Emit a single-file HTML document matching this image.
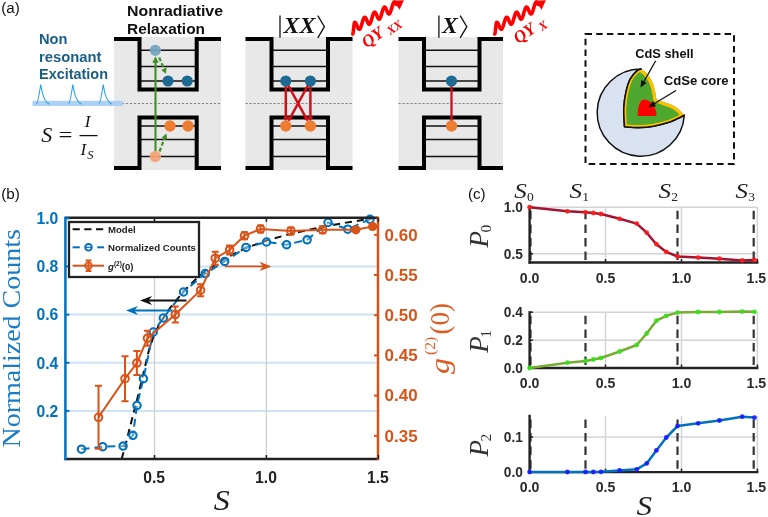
<!DOCTYPE html>
<html><head><meta charset="utf-8"><title>Figure</title>
<style>html,body{margin:0;padding:0;background:#fff;}body{width:768px;height:517px;overflow:hidden;font-family:"Liberation Sans",sans-serif;}</style>
</head><body>
<svg width="768" height="517" viewBox="0 0 768 517" style="display:block;filter:blur(0.4px)">
<rect width="768" height="517" fill="#ffffff"/>
<g id="panelA">
<text x="1.3" y="12.8" font-family="Liberation Sans, sans-serif" font-size="15.2" fill="#111">(a)</text>
<text x="39" y="43.9" font-family="Liberation Sans, sans-serif" font-weight="bold" font-size="14" fill="#1b5e85" textLength="28.5" lengthAdjust="spacingAndGlyphs">Non</text>
<text x="39" y="61.5" font-family="Liberation Sans, sans-serif" font-weight="bold" font-size="14" fill="#1b5e85" textLength="62.5" lengthAdjust="spacingAndGlyphs">resonant</text>
<text x="39" y="79.3" font-family="Liberation Sans, sans-serif" font-weight="bold" font-size="14" fill="#1b5e85" textLength="69" lengthAdjust="spacingAndGlyphs">Excitation</text>
<rect x="114" y="37" width="107" height="133" fill="#e8e8e8"/>
<line x1="139.5" y1="50.3" x2="196.7" y2="50.3" stroke="#111" stroke-width="1.4"/>
<line x1="139.5" y1="66.5" x2="196.7" y2="66.5" stroke="#111" stroke-width="1.4"/>
<line x1="139.5" y1="81" x2="196.7" y2="81" stroke="#111" stroke-width="1.4"/>
<line x1="139.5" y1="126" x2="196.7" y2="126" stroke="#111" stroke-width="1.4"/>
<line x1="139.5" y1="139.5" x2="196.7" y2="139.5" stroke="#111" stroke-width="1.4"/>
<line x1="139.5" y1="156.5" x2="196.7" y2="156.5" stroke="#111" stroke-width="1.4"/>
<line x1="114" y1="103.5" x2="221" y2="103.5" stroke="#555" stroke-width="0.7" stroke-dasharray="2.2,1.8"/>
<path d="M114 39 H139.5 V89.5 H196.7 V39 H221" fill="none" stroke="#000" stroke-width="4" stroke-linejoin="miter"/>
<path d="M114 168 H139.5 V117.5 H196.7 V168 H221" fill="none" stroke="#000" stroke-width="4" stroke-linejoin="miter"/>
<rect x="245.5" y="37" width="107.0" height="133" fill="#e8e8e8"/>
<line x1="271.5" y1="50.3" x2="328" y2="50.3" stroke="#111" stroke-width="1.4"/>
<line x1="271.5" y1="66.5" x2="328" y2="66.5" stroke="#111" stroke-width="1.4"/>
<line x1="271.5" y1="81" x2="328" y2="81" stroke="#111" stroke-width="1.4"/>
<line x1="271.5" y1="126" x2="328" y2="126" stroke="#111" stroke-width="1.4"/>
<line x1="271.5" y1="139.5" x2="328" y2="139.5" stroke="#111" stroke-width="1.4"/>
<line x1="271.5" y1="156.5" x2="328" y2="156.5" stroke="#111" stroke-width="1.4"/>
<line x1="245.5" y1="103.5" x2="352.5" y2="103.5" stroke="#555" stroke-width="0.7" stroke-dasharray="2.2,1.8"/>
<path d="M245.5 39 H271.5 V89.5 H328 V39 H352.5" fill="none" stroke="#000" stroke-width="4" stroke-linejoin="miter"/>
<path d="M245.5 168 H271.5 V117.5 H328 V168 H352.5" fill="none" stroke="#000" stroke-width="4" stroke-linejoin="miter"/>
<rect x="398.5" y="37" width="104.5" height="133" fill="#e8e8e8"/>
<line x1="424" y1="50.3" x2="479.5" y2="50.3" stroke="#111" stroke-width="1.4"/>
<line x1="424" y1="66.5" x2="479.5" y2="66.5" stroke="#111" stroke-width="1.4"/>
<line x1="424" y1="81" x2="479.5" y2="81" stroke="#111" stroke-width="1.4"/>
<line x1="424" y1="126" x2="479.5" y2="126" stroke="#111" stroke-width="1.4"/>
<line x1="424" y1="139.5" x2="479.5" y2="139.5" stroke="#111" stroke-width="1.4"/>
<line x1="424" y1="156.5" x2="479.5" y2="156.5" stroke="#111" stroke-width="1.4"/>
<line x1="398.5" y1="103.5" x2="503" y2="103.5" stroke="#555" stroke-width="0.7" stroke-dasharray="2.2,1.8"/>
<path d="M398.5 39 H424 V89.5 H479.5 V39 H503" fill="none" stroke="#000" stroke-width="4" stroke-linejoin="miter"/>
<path d="M398.5 168 H424 V117.5 H479.5 V168 H503" fill="none" stroke="#000" stroke-width="4" stroke-linejoin="miter"/>
<rect x="32.5" y="100.8" width="90.5" height="5.2" fill="#a9cff3" opacity="0.95"/>
<path d="M36.2 104 C38.2 103.5 39.5 92 40.7 84.5 C42.0 92 43.7 102 49.7 104.2" fill="none" stroke="#2fa3ea" stroke-width="1.1"/>
<path d="M68.3 104 C70.3 103.5 71.6 92 72.8 84.5 C74.1 92 75.8 102 81.8 104.2" fill="none" stroke="#2fa3ea" stroke-width="1.1"/>
<path d="M98.7 104 C100.7 103.5 102.0 92 103.2 84.5 C104.5 92 106.2 102 112.2 104.2" fill="none" stroke="#2fa3ea" stroke-width="1.1"/>
<text x="41.3" y="142" font-family="Liberation Serif, serif" font-style="italic" font-size="22" fill="#111">S</text>
<text x="58.5" y="141.5" font-family="Liberation Serif, serif" font-size="22" fill="#111" textLength="14" lengthAdjust="spacingAndGlyphs">=</text>
<text x="84.8" y="127" font-family="Liberation Serif, serif" font-style="italic" font-size="17" fill="#111">I</text>
<line x1="79.5" y1="135.6" x2="97.5" y2="135.6" stroke="#111" stroke-width="1.3"/>
<text x="80.6" y="155" font-family="Liberation Serif, serif" font-style="italic" font-size="17" fill="#111">I</text>
<text x="87.3" y="158.8" font-family="Liberation Serif, serif" font-style="italic" font-size="12.5" fill="#111">S</text>
<text x="127" y="15.6" font-family="Liberation Sans, sans-serif" font-weight="bold" font-size="14.2" fill="#111" textLength="96" lengthAdjust="spacingAndGlyphs">Nonradiative</text>
<text x="127" y="33.9" font-family="Liberation Sans, sans-serif" font-weight="bold" font-size="14.2" fill="#111" textLength="78" lengthAdjust="spacingAndGlyphs">Relaxation</text>
<line x1="155.5" y1="62" x2="155.5" y2="151" stroke="#3f8f24" stroke-width="2.1"/>
<path d="M155.50 56.30 L158.70 62.80 L152.30 62.80 Z" fill="#3f8f24"/>
<circle cx="155.3" cy="50.3" r="5.6" fill="#7ba9c2"/>
<line x1="150" y1="50.3" x2="161" y2="50.3" stroke="#4a7f9e" stroke-width="0.8" stroke-dasharray="1,0.8"/>
<circle cx="168" cy="81" r="5.6" fill="#1f6a93"/>
<circle cx="187.2" cy="81" r="5.6" fill="#1f6a93"/>
<circle cx="170" cy="126" r="5.7" fill="#ed7d31"/>
<circle cx="188" cy="126" r="5.7" fill="#ed7d31"/>
<circle cx="155.3" cy="156.5" r="5.7" fill="#f3a77e"/>
<line x1="150" y1="156.5" x2="161" y2="156.5" stroke="#d77a45" stroke-width="0.8" stroke-dasharray="1,0.8"/>
<line x1="159.2" y1="57.5" x2="164.31" y2="69.74" stroke="#3f8f24" stroke-width="2.2" stroke-dasharray="4,2.2"/><path d="M166.00 73.80 L161.11 69.88 L166.65 67.57 Z" fill="#3f8f24"/>
<line x1="159.5" y1="151.5" x2="164.83" y2="137.61" stroke="#3f8f24" stroke-width="2.2" stroke-dasharray="4,2.2"/><path d="M166.40 133.50 L167.23 139.71 L161.63 137.56 Z" fill="#3f8f24"/>
<line x1="285.8" y1="84" x2="285.80" y2="117.90" stroke="#cf1018" stroke-width="2.5"/><path d="M285.80 121.50 L283.00 117.00 L288.60 117.00 Z" fill="#cf1018"/>
<line x1="310.4" y1="84" x2="310.40" y2="117.90" stroke="#cf1018" stroke-width="2.5"/><path d="M310.40 121.50 L307.60 117.00 L313.20 117.00 Z" fill="#cf1018"/>
<line x1="287.5" y1="84" x2="306.27" y2="118.34" stroke="#cf1018" stroke-width="2.5"/><path d="M308.00 121.50 L303.38 118.89 L308.30 116.21 Z" fill="#cf1018"/>
<line x1="308.7" y1="84" x2="289.93" y2="118.34" stroke="#cf1018" stroke-width="2.5"/><path d="M288.20 121.50 L287.90 116.21 L292.82 118.89 Z" fill="#cf1018"/>
<circle cx="285.8" cy="81" r="5.6" fill="#1f6a93"/>
<circle cx="285.8" cy="126" r="5.7" fill="#ed7d31"/>
<circle cx="310.4" cy="81" r="5.6" fill="#1f6a93"/>
<circle cx="310.4" cy="126" r="5.7" fill="#ed7d31"/>
<line x1="451.5" y1="84" x2="451.5" y2="122" stroke="#cf1018" stroke-width="2.3"/>
<circle cx="451.5" cy="81" r="5.6" fill="#1f6a93"/>
<circle cx="451.5" cy="126" r="5.7" fill="#ed7d31"/>
<path d="M280 15.6 V37.8" stroke="#111" stroke-width="1.3" fill="none"/>
<text x="283.6" y="33.2" font-family="Liberation Serif, serif" font-style="italic" font-weight="bold" font-size="24" fill="#111" textLength="32" lengthAdjust="spacingAndGlyphs">XX</text>
<path d="M317.8 15.6 L324.4 26.7 L317.8 37.8" stroke="#111" stroke-width="1.3" fill="none" stroke-linejoin="miter"/>
<path d="M438.9 15.6 V37.8" stroke="#111" stroke-width="1.3" fill="none"/>
<text x="442" y="33.2" font-family="Liberation Serif, serif" font-style="italic" font-weight="bold" font-size="24" fill="#111" textLength="15.8" lengthAdjust="spacingAndGlyphs">X</text>
<path d="M460.2 15.6 L466.8 26.7 L460.2 37.8" stroke="#111" stroke-width="1.3" fill="none" stroke-linejoin="miter"/>
<path d="M352.70 34.00 L352.82 33.77 L352.94 33.37 L353.06 32.80 L353.18 32.08 L353.29 31.23 L353.41 30.28 L353.53 29.26 L353.65 28.21 L353.77 27.15 L353.89 26.14 L354.01 25.19 L354.12 24.34 L354.24 23.62 L354.36 23.05 L354.48 22.64 L354.60 22.42 L354.90 22.35 L355.20 22.44 L355.50 22.70 L355.80 23.10 L356.10 23.62 L356.40 24.24 L356.70 24.92 L357.00 25.65 L357.30 26.39 L357.60 27.11 L357.90 27.76 L358.20 28.34 L358.50 28.80 L358.80 29.13 L359.10 29.30 L359.40 29.32 L359.70 29.16 L360.00 28.84 L360.30 28.35 L360.60 27.71 L360.90 26.94 L361.20 26.06 L361.50 25.09 L361.80 24.07 L362.10 23.02 L362.40 21.98 L362.70 20.98 L363.00 20.06 L363.30 19.23 L363.60 18.52 L363.90 17.95 L364.20 17.55 L364.50 17.31 L364.80 17.24 L365.10 17.34 L365.40 17.59 L365.70 17.99 L366.00 18.51 L366.30 19.13 L366.60 19.82 L366.90 20.55 L367.20 21.28 L367.50 22.00 L367.80 22.66 L368.10 23.23 L368.40 23.69 L368.70 24.02 L369.00 24.20 L369.30 24.21 L369.60 24.06 L369.90 23.73 L370.20 23.24 L370.50 22.61 L370.80 21.84 L371.10 20.95 L371.40 19.98 L371.70 18.96 L372.00 17.91 L372.30 16.88 L372.60 15.88 L372.90 14.95 L373.20 14.12 L373.50 13.41 L373.80 12.85 L374.10 12.44 L374.40 12.20 L374.70 12.13 L375.00 12.23 L375.30 12.48 L375.60 12.88 L375.90 13.40 L376.20 14.02 L376.50 14.71 L376.80 15.44 L377.10 16.18 L377.40 16.89 L377.70 17.55 L378.00 18.12 L378.30 18.58 L378.60 18.91 L378.90 19.09 L379.20 19.10 L379.50 18.95 L379.80 18.62 L380.10 18.14 L380.40 17.50 L380.70 16.73 L381.00 15.84 L381.30 14.88 L381.60 13.85 L381.90 12.81 L382.20 11.77 L382.50 10.77 L382.80 9.84 L383.10 9.01 L383.40 8.30 L383.70 7.74 L384.00 7.33 L384.30 7.09 L384.60 7.02 L384.90 7.12 L385.20 7.37 L385.50 7.77 L385.80 8.29 L386.10 8.91 L386.40 9.60 L386.70 10.33 L387.00 11.07 L387.30 11.78 L387.60 12.44 L387.90 13.01 L388.20 13.47 L388.50 13.80 L388.80 13.98 L389.10 13.99 L389.40 13.84 L389.70 13.51 L390.00 13.03 L390.30 12.39 L390.60 11.62 L390.90 10.74 L391.20 9.77 L391.50 8.74 L391.80 7.70 L392.10 6.66 L392.40 5.66 L392.70 4.73 L393.00 3.90 L393.30 3.19 L393.60 2.63 L393.90 2.22 L394.20 1.98 L394.50 1.91 L394.80 2.01 L395.10 2.26 L395.40 2.66 L395.70 3.18 L396.00 3.80 L396.30 4.49" fill="none" stroke="#ff0000" stroke-width="3.6" stroke-linecap="round" stroke-linejoin="round"/><path d="M403.90 0.30 L393.40 0.80 L399.60 9.70 Z" fill="#ff0000"/>
<path d="M494.70 34.00 L494.82 33.77 L494.94 33.37 L495.06 32.80 L495.18 32.08 L495.29 31.23 L495.41 30.28 L495.53 29.26 L495.65 28.21 L495.77 27.15 L495.89 26.14 L496.01 25.19 L496.12 24.34 L496.24 23.62 L496.36 23.05 L496.48 22.64 L496.60 22.42 L496.90 22.35 L497.20 22.44 L497.50 22.70 L497.80 23.10 L498.10 23.62 L498.40 24.24 L498.70 24.92 L499.00 25.65 L499.30 26.39 L499.60 27.11 L499.90 27.76 L500.20 28.34 L500.50 28.80 L500.80 29.13 L501.10 29.30 L501.40 29.32 L501.70 29.16 L502.00 28.84 L502.30 28.35 L502.60 27.71 L502.90 26.94 L503.20 26.06 L503.50 25.09 L503.80 24.07 L504.10 23.02 L504.40 21.98 L504.70 20.98 L505.00 20.06 L505.30 19.23 L505.60 18.52 L505.90 17.95 L506.20 17.55 L506.50 17.31 L506.80 17.24 L507.10 17.34 L507.40 17.59 L507.70 17.99 L508.00 18.51 L508.30 19.13 L508.60 19.82 L508.90 20.55 L509.20 21.28 L509.50 22.00 L509.80 22.66 L510.10 23.23 L510.40 23.69 L510.70 24.02 L511.00 24.20 L511.30 24.21 L511.60 24.06 L511.90 23.73 L512.20 23.24 L512.50 22.61 L512.80 21.84 L513.10 20.95 L513.40 19.98 L513.70 18.96 L514.00 17.91 L514.30 16.88 L514.60 15.88 L514.90 14.95 L515.20 14.12 L515.50 13.41 L515.80 12.85 L516.10 12.44 L516.40 12.20 L516.70 12.13 L517.00 12.23 L517.30 12.48 L517.60 12.88 L517.90 13.40 L518.20 14.02 L518.50 14.71 L518.80 15.44 L519.10 16.18 L519.40 16.89 L519.70 17.55 L520.00 18.12 L520.30 18.58 L520.60 18.91 L520.90 19.09 L521.20 19.10 L521.50 18.95 L521.80 18.62 L522.10 18.14 L522.40 17.50 L522.70 16.73 L523.00 15.84 L523.30 14.88 L523.60 13.85 L523.90 12.81 L524.20 11.77 L524.50 10.77 L524.80 9.84 L525.10 9.01 L525.40 8.30 L525.70 7.74 L526.00 7.33 L526.30 7.09 L526.60 7.02 L526.90 7.12 L527.20 7.37 L527.50 7.77 L527.80 8.29 L528.10 8.91 L528.40 9.60 L528.70 10.33 L529.00 11.07 L529.30 11.78 L529.60 12.44 L529.90 13.01 L530.20 13.47 L530.50 13.80 L530.80 13.98 L531.10 13.99 L531.40 13.84 L531.70 13.51 L532.00 13.03 L532.30 12.39 L532.60 11.62 L532.90 10.74 L533.20 9.77 L533.50 8.74 L533.80 7.70 L534.10 6.66 L534.40 5.66 L534.70 4.73 L535.00 3.90 L535.30 3.19 L535.60 2.63 L535.90 2.22 L536.20 1.98 L536.50 1.91 L536.80 2.01 L537.10 2.26 L537.40 2.66 L537.70 3.18 L538.00 3.80 L538.30 4.49" fill="none" stroke="#ff0000" stroke-width="3.6" stroke-linecap="round" stroke-linejoin="round"/><path d="M545.90 0.30 L535.40 0.80 L541.60 9.70 Z" fill="#ff0000"/>
<g transform="translate(366.4,48.4) rotate(-35)"><text x="0" y="0" font-family="Liberation Serif, serif" font-style="italic" font-weight="bold" font-size="17" fill="#ff0000">QY</text><text x="27" y="3" font-family="Liberation Serif, serif" font-style="italic" font-weight="bold" font-size="12" fill="#ff0000">XX</text></g>
<g transform="translate(518.2,44.3) rotate(-35)"><text x="0" y="0" font-family="Liberation Serif, serif" font-style="italic" font-weight="bold" font-size="17" fill="#ff0000">QY</text><text x="27" y="3" font-family="Liberation Serif, serif" font-style="italic" font-weight="bold" font-size="12" fill="#ff0000">X</text></g>
<rect x="585.5" y="34" width="148.5" height="130" fill="none" stroke="#111" stroke-width="2" stroke-dasharray="6.5,4.2"/>
<path d="M641.2 69 A43.6 43.6 0 1 0 684.3 115.2 C683.28 115.72 680.90 117.07 678.2 118.3 C675.50 119.53 672.22 121.28 668.1 122.6 C663.98 123.92 658.35 125.37 653.5 126.2 C648.65 127.03 643.83 127.50 639 127.6 C634.17 127.70 626.92 126.93 624.5 126.8 C624.38 123.65 623.55 113.72 623.8 107.9 C624.05 102.08 624.92 96.73 626 91.9 C627.08 87.07 628.48 82.40 630.3 78.9 C632.12 75.40 635.08 72.55 636.9 70.9 C638.72 69.25 640.48 69.32 641.2 69 Z" fill="#d9e2f1" stroke="#111" stroke-width="1.5" stroke-linejoin="round"/>
<clipPath id="hc"><path d="M624.5 126.8 C624.38 123.65 623.55 113.72 623.8 107.9 C624.05 102.08 624.92 96.73 626 91.9 C627.08 87.07 628.48 82.40 630.3 78.9 C632.12 75.40 635.08 72.55 636.9 70.9 C638.72 69.25 640.48 69.32 641.2 69 C642.05 69.68 644.60 71.22 646.3 73.1 C648.00 74.98 650.02 77.65 651.4 80.3 C652.78 82.95 653.77 85.85 654.6 89 C655.43 92.15 656.10 97.50 656.4 99.2 C657.38 99.60 659.87 100.70 662.3 101.6 C664.73 102.50 668.35 103.37 671 104.6 C673.65 105.83 676.15 107.43 678.2 109 C680.25 110.57 682.28 112.97 683.3 114 C684.32 115.03 684.13 115.00 684.3 115.2 C683.28 115.72 680.90 117.07 678.2 118.3 C675.50 119.53 672.22 121.28 668.1 122.6 C663.98 123.92 658.35 125.37 653.5 126.2 C648.65 127.03 643.83 127.50 639 127.6 C634.17 127.70 626.92 126.93 624.5 126.8 Z"/></clipPath>
<path d="M624.5 126.8 C624.38 123.65 623.55 113.72 623.8 107.9 C624.05 102.08 624.92 96.73 626 91.9 C627.08 87.07 628.48 82.40 630.3 78.9 C632.12 75.40 635.08 72.55 636.9 70.9 C638.72 69.25 640.48 69.32 641.2 69 C642.05 69.68 644.60 71.22 646.3 73.1 C648.00 74.98 650.02 77.65 651.4 80.3 C652.78 82.95 653.77 85.85 654.6 89 C655.43 92.15 656.10 97.50 656.4 99.2 C657.38 99.60 659.87 100.70 662.3 101.6 C664.73 102.50 668.35 103.37 671 104.6 C673.65 105.83 676.15 107.43 678.2 109 C680.25 110.57 682.28 112.97 683.3 114 C684.32 115.03 684.13 115.00 684.3 115.2 C683.28 115.72 680.90 117.07 678.2 118.3 C675.50 119.53 672.22 121.28 668.1 122.6 C663.98 123.92 658.35 125.37 653.5 126.2 C648.65 127.03 643.83 127.50 639 127.6 C634.17 127.70 626.92 126.93 624.5 126.8 Z" fill="#4ea72e"/>
<g clip-path="url(#hc)"><path d="M641.2 69 C642.05 69.68 644.60 71.22 646.3 73.1 C648.00 74.98 650.02 77.65 651.4 80.3 C652.78 82.95 653.77 85.85 654.6 89 C655.43 92.15 656.10 97.50 656.4 99.2 C657.38 99.60 659.87 100.70 662.3 101.6 C664.73 102.50 668.35 103.37 671 104.6 C673.65 105.83 676.15 107.43 678.2 109 C680.25 110.57 682.28 112.97 683.3 114 C684.32 115.03 684.13 115.00 684.3 115.2 " fill="none" stroke="#ffc000" stroke-width="6.4" stroke-linejoin="round"/><path d="M684.3 115.2 C683.28 115.72 680.90 117.07 678.2 118.3 C675.50 119.53 672.22 121.28 668.1 122.6 C663.98 123.92 658.35 125.37 653.5 126.2 C648.65 127.03 643.83 127.50 639 127.6 C634.17 127.70 626.92 126.93 624.5 126.8 C624.38 123.65 623.55 113.72 623.8 107.9 C624.05 102.08 624.92 96.73 626 91.9 C627.08 87.07 628.48 82.40 630.3 78.9 C632.12 75.40 635.08 72.55 636.9 70.9 C638.72 69.25 640.48 69.32 641.2 69 " fill="none" stroke="#ffc000" stroke-width="5" stroke-linejoin="round"/></g>
<path d="M684.3 115.2 C683.28 115.72 680.90 117.07 678.2 118.3 C675.50 119.53 672.22 121.28 668.1 122.6 C663.98 123.92 658.35 125.37 653.5 126.2 C648.65 127.03 643.83 127.50 639 127.6 C634.17 127.70 626.92 126.93 624.5 126.8 C624.38 123.65 623.55 113.72 623.8 107.9 C624.05 102.08 624.92 96.73 626 91.9 C627.08 87.07 628.48 82.40 630.3 78.9 C632.12 75.40 635.08 72.55 636.9 70.9 C638.72 69.25 640.48 69.32 641.2 69 " fill="none" stroke="#111" stroke-width="1.6" stroke-linejoin="round" stroke-linecap="round"/>
<path d="M637.6 115.9 C637.6 110 638.5 104.5 641 101.2 C642 99.8 643.3 99.3 645 99.6 C651.5 100.8 656.5 107 656.5 115.9 Z" fill="#ff0000"/>
<line x1="655.7" y1="60.7" x2="643.25" y2="82.72" stroke="#111" stroke-width="1.3"/><path d="M640.50 87.60 L641.33 80.03 L646.56 82.98 Z" fill="#111"/>
<line x1="676" y1="90.5" x2="653.29" y2="104.29" stroke="#111" stroke-width="1.3"/><path d="M648.50 107.20 L652.93 101.00 L656.04 106.13 Z" fill="#111"/>
<text x="635.2" y="58" font-family="Liberation Sans, sans-serif" font-weight="bold" font-size="13" fill="#111" textLength="58.5" lengthAdjust="spacingAndGlyphs">CdS shell</text>
<text x="663.7" y="85" font-family="Liberation Sans, sans-serif" font-weight="bold" font-size="13" fill="#111" textLength="65" lengthAdjust="spacingAndGlyphs">CdSe core</text>
</g>
<g id="panelB">
<text x="1.3" y="198.5" font-family="Liberation Sans, sans-serif" font-size="15.2" fill="#111">(b)</text>
<line x1="65.4" y1="410.9" x2="378" y2="410.9" stroke="#cde2f4" stroke-width="2"/>
<line x1="65.4" y1="362.8" x2="378" y2="362.8" stroke="#cde2f4" stroke-width="2"/>
<line x1="65.4" y1="314.6" x2="378" y2="314.6" stroke="#cde2f4" stroke-width="2"/>
<line x1="65.4" y1="266.5" x2="378" y2="266.5" stroke="#cde2f4" stroke-width="2"/>
<line x1="154.5" y1="217.8" x2="154.5" y2="459" stroke="#cfcfcf" stroke-width="1.3"/>
<line x1="266.4" y1="217.8" x2="266.4" y2="459" stroke="#cfcfcf" stroke-width="1.3"/>
<path d="M121.7 459 L126 443 L131 423 L137 400 L143 375 L149 350 L154 335 L160 323 L170 308 L183 292 L195 280 L206 271 L225 258.5 L246 248 L266.5 240.5 L290 234 L310 229.5 L330 225.5 L350 222 L378 217.5" fill="none" stroke="#111" stroke-width="2" stroke-dasharray="7,5"/>
<path d="M81.5 449.2 L102.7 446.7 L123.1 446.1 L132.9 435.3 L137 405.4 L143.4 378.7 L153.3 332 L163.3 318 L183.5 292 L205.3 273.6 L224.7 261.4 L246 247.4 L266.5 242 L286.6 244.7 L307.1 239.8 L328 222.5 L347.7 229.2 L370 219.3" fill="none" stroke="#0072bd" stroke-width="2" stroke-dasharray="8,5"/>
<circle cx="81.5" cy="449.2" r="3.7" fill="#fff" fill-opacity="0.35" stroke="#0072bd" stroke-width="2.1"/>
<circle cx="102.7" cy="446.7" r="3.7" fill="#fff" fill-opacity="0.35" stroke="#0072bd" stroke-width="2.1"/>
<circle cx="123.1" cy="446.1" r="3.7" fill="#fff" fill-opacity="0.35" stroke="#0072bd" stroke-width="2.1"/>
<circle cx="132.9" cy="435.3" r="3.7" fill="#fff" fill-opacity="0.35" stroke="#0072bd" stroke-width="2.1"/>
<circle cx="137" cy="405.4" r="3.7" fill="#fff" fill-opacity="0.35" stroke="#0072bd" stroke-width="2.1"/>
<circle cx="143.4" cy="378.7" r="3.7" fill="#fff" fill-opacity="0.35" stroke="#0072bd" stroke-width="2.1"/>
<circle cx="153.3" cy="332" r="3.7" fill="#fff" fill-opacity="0.35" stroke="#0072bd" stroke-width="2.1"/>
<circle cx="163.3" cy="318" r="3.7" fill="#fff" fill-opacity="0.35" stroke="#0072bd" stroke-width="2.1"/>
<circle cx="183.5" cy="292" r="3.7" fill="#fff" fill-opacity="0.35" stroke="#0072bd" stroke-width="2.1"/>
<circle cx="205.3" cy="273.6" r="3.7" fill="#fff" fill-opacity="0.35" stroke="#0072bd" stroke-width="2.1"/>
<circle cx="224.7" cy="261.4" r="3.7" fill="#fff" fill-opacity="0.35" stroke="#0072bd" stroke-width="2.1"/>
<circle cx="246" cy="247.4" r="3.7" fill="#fff" fill-opacity="0.35" stroke="#0072bd" stroke-width="2.1"/>
<circle cx="266.5" cy="242" r="3.7" fill="#fff" fill-opacity="0.35" stroke="#0072bd" stroke-width="2.1"/>
<circle cx="286.6" cy="244.7" r="3.7" fill="#fff" fill-opacity="0.35" stroke="#0072bd" stroke-width="2.1"/>
<circle cx="307.1" cy="239.8" r="3.7" fill="#fff" fill-opacity="0.35" stroke="#0072bd" stroke-width="2.1"/>
<circle cx="328" cy="222.5" r="3.7" fill="#fff" fill-opacity="0.35" stroke="#0072bd" stroke-width="2.1"/>
<circle cx="347.7" cy="229.2" r="3.7" fill="#fff" fill-opacity="0.35" stroke="#0072bd" stroke-width="2.1"/>
<circle cx="370" cy="219.3" r="3.7" fill="#fff" fill-opacity="0.35" stroke="#0072bd" stroke-width="2.1"/>
<path d="M98.5 417.3 L125 378.7 L136.9 363 L147.5 338.2 L175.3 314.5 L200.6 290.2 L215.3 258.2 L229.6 250 L244.5 235.7 L260.5 229 L290.9 231 L322.6 229.8 L355.9 229.8 L372.6 226.5" fill="none" stroke="#d95319" stroke-width="2"/>
<path d="M98.5 385.8 V448.8 M95.0 385.8 H102.0 M95.0 448.8 H102.0" stroke="#d95319" stroke-width="2" fill="none"/>
<circle cx="98.5" cy="417.3" r="3.8" fill="none" stroke="#d95319" stroke-width="2"/>
<path d="M125 356.2 V401.2 M121.5 356.2 H128.5 M121.5 401.2 H128.5" stroke="#d95319" stroke-width="2" fill="none"/>
<circle cx="125" cy="378.7" r="3.8" fill="none" stroke="#d95319" stroke-width="2"/>
<path d="M136.9 351 V375 M133.4 351 H140.4 M133.4 375 H140.4" stroke="#d95319" stroke-width="2" fill="none"/>
<circle cx="136.9" cy="363" r="3.8" fill="none" stroke="#d95319" stroke-width="2"/>
<path d="M147.5 330.7 V345.7 M144.0 330.7 H151.0 M144.0 345.7 H151.0" stroke="#d95319" stroke-width="2" fill="none"/>
<circle cx="147.5" cy="338.2" r="3.8" fill="none" stroke="#d95319" stroke-width="2"/>
<path d="M175.3 306.5 V322.5 M171.8 306.5 H178.8 M171.8 322.5 H178.8" stroke="#d95319" stroke-width="2" fill="none"/>
<circle cx="175.3" cy="314.5" r="3.8" fill="none" stroke="#d95319" stroke-width="2"/>
<path d="M200.6 284.2 V296.2 M197.1 284.2 H204.1 M197.1 296.2 H204.1" stroke="#d95319" stroke-width="2" fill="none"/>
<circle cx="200.6" cy="290.2" r="3.8" fill="none" stroke="#d95319" stroke-width="2"/>
<path d="M215.3 251.7 V264.7 M211.8 251.7 H218.8 M211.8 264.7 H218.8" stroke="#d95319" stroke-width="2" fill="none"/>
<circle cx="215.3" cy="258.2" r="3.8" fill="none" stroke="#d95319" stroke-width="2"/>
<path d="M229.6 245.5 V254.5 M226.1 245.5 H233.1 M226.1 254.5 H233.1" stroke="#d95319" stroke-width="2" fill="none"/>
<circle cx="229.6" cy="250" r="3.8" fill="none" stroke="#d95319" stroke-width="2"/>
<path d="M244.5 232.2 V239.2 M241.0 232.2 H248.0 M241.0 239.2 H248.0" stroke="#d95319" stroke-width="2" fill="none"/>
<circle cx="244.5" cy="235.7" r="3.8" fill="none" stroke="#d95319" stroke-width="2"/>
<path d="M260.5 225.5 V232.5 M257.0 225.5 H264.0 M257.0 232.5 H264.0" stroke="#d95319" stroke-width="2" fill="none"/>
<circle cx="260.5" cy="229" r="3.8" fill="none" stroke="#d95319" stroke-width="2"/>
<path d="M290.9 227.5 V234.5 M287.4 227.5 H294.4 M287.4 234.5 H294.4" stroke="#d95319" stroke-width="2" fill="none"/>
<circle cx="290.9" cy="231" r="3.8" fill="none" stroke="#d95319" stroke-width="2"/>
<path d="M322.6 226.3 V233.3 M319.1 226.3 H326.1 M319.1 233.3 H326.1" stroke="#d95319" stroke-width="2" fill="none"/>
<circle cx="322.6" cy="229.8" r="3.8" fill="none" stroke="#d95319" stroke-width="2"/>
<circle cx="355.9" cy="229.8" r="4.6" fill="#d95319"/>
<circle cx="372.6" cy="226.5" r="4.6" fill="#d95319"/>
<line x1="186.5" y1="300.5" x2="144" y2="300.5" stroke="#111" stroke-width="1.9"/><path d="M140 300.5 L152 295.9 L148.5 300.5 L152 305.1 Z" fill="#111"/>
<line x1="172.5" y1="310.5" x2="130" y2="310.5" stroke="#0072bd" stroke-width="1.9"/><path d="M126 310.5 L138 305.9 L134.5 310.5 L138 315.1 Z" fill="#0072bd"/>
<line x1="225" y1="266.4" x2="267.5" y2="266.4" stroke="#d95319" stroke-width="1.9"/><path d="M271.5 266.4 L259.5 261.79999999999995 L263.0 266.4 L259.5 271.0 Z" fill="#d95319"/>
<line x1="65.4" y1="217.8" x2="378" y2="217.8" stroke="#222" stroke-width="2.4"/>
<line x1="64.2" y1="459" x2="378" y2="459" stroke="#222" stroke-width="2.4"/>
<line x1="65.4" y1="216.60000000000002" x2="65.4" y2="460.2" stroke="#0072bd" stroke-width="2.5"/>
<line x1="378" y1="216.60000000000002" x2="378" y2="460.2" stroke="#d95319" stroke-width="2.5"/>
<line x1="65.4" y1="410.9" x2="69.4" y2="410.9" stroke="#0072bd" stroke-width="2"/>
<text x="58.3" y="416.6" font-family="Liberation Sans, sans-serif" font-weight="bold" font-size="15.7" fill="#0072bd" text-anchor="end">0.2</text>
<line x1="65.4" y1="362.8" x2="69.4" y2="362.8" stroke="#0072bd" stroke-width="2"/>
<text x="58.3" y="368.5" font-family="Liberation Sans, sans-serif" font-weight="bold" font-size="15.7" fill="#0072bd" text-anchor="end">0.4</text>
<line x1="65.4" y1="314.6" x2="69.4" y2="314.6" stroke="#0072bd" stroke-width="2"/>
<text x="58.3" y="320.3" font-family="Liberation Sans, sans-serif" font-weight="bold" font-size="15.7" fill="#0072bd" text-anchor="end">0.6</text>
<line x1="65.4" y1="266.5" x2="69.4" y2="266.5" stroke="#0072bd" stroke-width="2"/>
<text x="58.3" y="272.2" font-family="Liberation Sans, sans-serif" font-weight="bold" font-size="15.7" fill="#0072bd" text-anchor="end">0.8</text>
<line x1="65.4" y1="218.4" x2="69.4" y2="218.4" stroke="#0072bd" stroke-width="2"/>
<text x="58.3" y="224.1" font-family="Liberation Sans, sans-serif" font-weight="bold" font-size="15.7" fill="#0072bd" text-anchor="end">1.0</text>
<line x1="374" y1="435.8" x2="378" y2="435.8" stroke="#d95319" stroke-width="2"/>
<text x="384.6" y="441.5" font-family="Liberation Sans, sans-serif" font-weight="bold" font-size="15.7" fill="#d95319" textLength="33" lengthAdjust="spacingAndGlyphs">0.35</text>
<line x1="374" y1="395.6" x2="378" y2="395.6" stroke="#d95319" stroke-width="2"/>
<text x="384.6" y="401.3" font-family="Liberation Sans, sans-serif" font-weight="bold" font-size="15.7" fill="#d95319" textLength="33" lengthAdjust="spacingAndGlyphs">0.40</text>
<line x1="374" y1="355.4" x2="378" y2="355.4" stroke="#d95319" stroke-width="2"/>
<text x="384.6" y="361.1" font-family="Liberation Sans, sans-serif" font-weight="bold" font-size="15.7" fill="#d95319" textLength="33" lengthAdjust="spacingAndGlyphs">0.45</text>
<line x1="374" y1="315.2" x2="378" y2="315.2" stroke="#d95319" stroke-width="2"/>
<text x="384.6" y="320.9" font-family="Liberation Sans, sans-serif" font-weight="bold" font-size="15.7" fill="#d95319" textLength="33" lengthAdjust="spacingAndGlyphs">0.50</text>
<line x1="374" y1="275.0" x2="378" y2="275.0" stroke="#d95319" stroke-width="2"/>
<text x="384.6" y="280.7" font-family="Liberation Sans, sans-serif" font-weight="bold" font-size="15.7" fill="#d95319" textLength="33" lengthAdjust="spacingAndGlyphs">0.55</text>
<line x1="374" y1="234.8" x2="378" y2="234.8" stroke="#d95319" stroke-width="2"/>
<text x="384.6" y="240.5" font-family="Liberation Sans, sans-serif" font-weight="bold" font-size="15.7" fill="#d95319" textLength="33" lengthAdjust="spacingAndGlyphs">0.60</text>
<line x1="154.5" y1="459" x2="154.5" y2="455" stroke="#222" stroke-width="1.6"/>
<line x1="154.5" y1="217.8" x2="154.5" y2="221.8" stroke="#222" stroke-width="1.6"/>
<text x="154.1" y="483" font-family="Liberation Sans, sans-serif" font-weight="bold" font-size="15.7" fill="#222" text-anchor="middle">0.5</text>
<line x1="266.4" y1="459" x2="266.4" y2="455" stroke="#222" stroke-width="1.6"/>
<line x1="266.4" y1="217.8" x2="266.4" y2="221.8" stroke="#222" stroke-width="1.6"/>
<text x="266.0" y="483" font-family="Liberation Sans, sans-serif" font-weight="bold" font-size="15.7" fill="#222" text-anchor="middle">1.0</text>
<line x1="378.3" y1="459" x2="378.3" y2="455" stroke="#222" stroke-width="1.6"/>
<line x1="378.3" y1="217.8" x2="378.3" y2="221.8" stroke="#222" stroke-width="1.6"/>
<text x="377.9" y="483" font-family="Liberation Sans, sans-serif" font-weight="bold" font-size="15.7" fill="#222" text-anchor="middle">1.5</text>
<rect x="69" y="222" width="130" height="55" fill="#fff" stroke="#222" stroke-width="2.3"/>
<line x1="72.6" y1="229.3" x2="104" y2="229.3" stroke="#111" stroke-width="2" stroke-dasharray="7.2,4.5"/>
<text x="108" y="232.8" font-family="Liberation Sans, sans-serif" font-weight="bold" font-size="9.6" fill="#222">Model</text>
<line x1="72.6" y1="247.3" x2="79.8" y2="247.3" stroke="#0072bd" stroke-width="2"/>
<line x1="97.2" y1="247.3" x2="104" y2="247.3" stroke="#0072bd" stroke-width="2"/>
<circle cx="88.5" cy="247.3" r="3.3" fill="#fff" stroke="#0072bd" stroke-width="1.9"/><line x1="86" y1="247.3" x2="91" y2="247.3" stroke="#0072bd" stroke-width="1.2"/>
<text x="108" y="250.8" font-family="Liberation Sans, sans-serif" font-weight="bold" font-size="9.6" fill="#222" textLength="88" lengthAdjust="spacingAndGlyphs">Normalized Counts</text>
<line x1="72.6" y1="265.7" x2="104" y2="265.7" stroke="#d95319" stroke-width="2"/>
<path d="M88.5 260.5 V271 M85.6 260.5 H91.4 M85.6 271 H91.4" stroke="#d95319" stroke-width="1.8" fill="none"/>
<circle cx="88.5" cy="265.7" r="3.3" fill="none" stroke="#d95319" stroke-width="1.8"/>
<text x="108" y="269.5" font-family="Liberation Sans, sans-serif" font-weight="bold" font-size="9.6" fill="#222"><tspan font-style="italic">g</tspan><tspan dy="-3.5" font-size="6.5">(2)</tspan><tspan dy="3.5">(0)</tspan></text>
<text transform="translate(19.6,338.3) rotate(-90)" font-family="Liberation Serif, serif" font-size="24.5" fill="#1a7cc4" text-anchor="middle" textLength="218.6" lengthAdjust="spacingAndGlyphs">Normalized Counts</text>
<text x="213.8" y="510" font-family="Liberation Serif, serif" font-style="italic" font-size="29" fill="#222" textLength="16" lengthAdjust="spacingAndGlyphs">S</text>
<g transform="translate(449,374.5) rotate(-90)" fill="#dd5b22"><text x="0.5" y="0" font-family="Liberation Serif, serif" font-style="italic" font-size="27" textLength="16" lengthAdjust="spacingAndGlyphs">g</text><text x="19.5" y="-14" font-family="Liberation Serif, serif" font-size="15.5">(2)</text><text x="40" y="0" font-family="Liberation Serif, serif" font-size="27">(0)</text></g>
</g>
<g id="panelC">
<text x="467.9" y="199.3" font-family="Liberation Sans, sans-serif" font-size="15.2" fill="#111">(c)</text>
<text x="514.3" y="197.6" font-family="Liberation Serif, serif" font-style="italic" font-size="21.5" fill="#222" textLength="12.5" lengthAdjust="spacingAndGlyphs">S</text>
<text x="527.0999999999999" y="201" font-family="Liberation Serif, serif" font-size="13.5" fill="#222">0</text>
<text x="569.4" y="197.6" font-family="Liberation Serif, serif" font-style="italic" font-size="21.5" fill="#222" textLength="12.5" lengthAdjust="spacingAndGlyphs">S</text>
<text x="582.1999999999999" y="201" font-family="Liberation Serif, serif" font-size="13.5" fill="#222">1</text>
<text x="658.5" y="197.6" font-family="Liberation Serif, serif" font-style="italic" font-size="21.5" fill="#222" textLength="12.5" lengthAdjust="spacingAndGlyphs">S</text>
<text x="671.3" y="201" font-family="Liberation Serif, serif" font-size="13.5" fill="#222">2</text>
<text x="735.5" y="197.6" font-family="Liberation Serif, serif" font-style="italic" font-size="21.5" fill="#222" textLength="12.5" lengthAdjust="spacingAndGlyphs">S</text>
<text x="748.3" y="201" font-family="Liberation Serif, serif" font-size="13.5" fill="#222">3</text>
<line x1="529.6" y1="207.2" x2="757.4" y2="207.2" stroke="#d4d4d8" stroke-width="1.5"/>
<line x1="529.6" y1="253.8" x2="757.4" y2="253.8" stroke="#d4d4d8" stroke-width="1.5"/>
<line x1="605.5" y1="207.2" x2="605.5" y2="262.5" stroke="#d4d4d8" stroke-width="1.5"/>
<line x1="681.5" y1="207.2" x2="681.5" y2="262.5" stroke="#d4d4d8" stroke-width="1.5"/>
<line x1="757.4" y1="207.2" x2="757.4" y2="262.5" stroke="#d4d4d8" stroke-width="1.5"/>
<line x1="530.5" y1="210.79999999999998" x2="530.5" y2="262.5" stroke="#333" stroke-width="2.2" stroke-dasharray="8.5,5.1"/>
<line x1="585.5" y1="210.79999999999998" x2="585.5" y2="262.5" stroke="#333" stroke-width="2.2" stroke-dasharray="8.5,5.1"/>
<line x1="677.5" y1="210.79999999999998" x2="677.5" y2="262.5" stroke="#333" stroke-width="2.2" stroke-dasharray="8.5,5.1"/>
<line x1="753.7" y1="210.79999999999998" x2="753.7" y2="262.5" stroke="#333" stroke-width="2.2" stroke-dasharray="8.5,5.1"/>
<line x1="529.6" y1="206.2" x2="529.6" y2="263.7" stroke="#222" stroke-width="2.4"/>
<line x1="528.6" y1="262.5" x2="758.4" y2="262.5" stroke="#222" stroke-width="2.4"/>
<line x1="605.5" y1="262.5" x2="605.5" y2="259.0" stroke="#222" stroke-width="1.5"/>
<line x1="681.5" y1="262.5" x2="681.5" y2="259.0" stroke="#222" stroke-width="1.5"/>
<line x1="757.4" y1="262.5" x2="757.4" y2="259.0" stroke="#222" stroke-width="1.5"/>
<line x1="529.6" y1="207.2" x2="533.1" y2="207.2" stroke="#222" stroke-width="1.5"/>
<line x1="529.6" y1="253.8" x2="533.1" y2="253.8" stroke="#222" stroke-width="1.5"/>
<path d="M529.6 207.2 L567.4 211.3 L585.5 212.3 L593.4 213 L601.0 214 L619.6 218.8 L636.7 223.6 L646.7 232.7 L656.4 244.2 L666.3 251.9 L677.5 256.5 L698.2 257.6 L719.4 258.7 L742.2 260.4 L754.5 260" fill="none" stroke="#a2142f" stroke-width="2.5" stroke-linejoin="round"/>
<circle cx="529.6" cy="207.2" r="2.4" fill="#ff1a1a" fill-opacity="0.9"/>
<circle cx="567.4" cy="211.3" r="2.4" fill="#ff1a1a" fill-opacity="0.9"/>
<circle cx="585.5" cy="212.3" r="2.4" fill="#ff1a1a" fill-opacity="0.9"/>
<circle cx="593.4" cy="213" r="2.4" fill="#ff1a1a" fill-opacity="0.9"/>
<circle cx="601.0" cy="214" r="2.4" fill="#ff1a1a" fill-opacity="0.9"/>
<circle cx="619.6" cy="218.8" r="2.4" fill="#ff1a1a" fill-opacity="0.9"/>
<circle cx="636.7" cy="223.6" r="2.4" fill="#ff1a1a" fill-opacity="0.9"/>
<circle cx="646.7" cy="232.7" r="2.4" fill="#ff1a1a" fill-opacity="0.9"/>
<circle cx="656.4" cy="244.2" r="2.4" fill="#ff1a1a" fill-opacity="0.9"/>
<circle cx="666.3" cy="251.9" r="2.4" fill="#ff1a1a" fill-opacity="0.9"/>
<circle cx="677.5" cy="256.5" r="2.4" fill="#ff1a1a" fill-opacity="0.9"/>
<circle cx="698.2" cy="257.6" r="2.4" fill="#ff1a1a" fill-opacity="0.9"/>
<circle cx="719.4" cy="258.7" r="2.4" fill="#ff1a1a" fill-opacity="0.9"/>
<circle cx="742.2" cy="260.4" r="2.4" fill="#ff1a1a" fill-opacity="0.9"/>
<circle cx="754.5" cy="260" r="2.4" fill="#ff1a1a" fill-opacity="0.9"/>
<text x="522.8" y="211.89999999999998" font-family="Liberation Sans, sans-serif" font-weight="bold" font-size="13.8" fill="#2a2a2a" text-anchor="end" textLength="19" lengthAdjust="spacingAndGlyphs">1.0</text>
<text x="522.8" y="258.5" font-family="Liberation Sans, sans-serif" font-weight="bold" font-size="13.8" fill="#2a2a2a" text-anchor="end" textLength="19" lengthAdjust="spacingAndGlyphs">0.5</text>
<text x="519.8" y="282.5" font-family="Liberation Sans, sans-serif" font-weight="bold" font-size="13.8" fill="#2a2a2a" textLength="19.6" lengthAdjust="spacingAndGlyphs">0.0</text>
<text x="595.7" y="282.5" font-family="Liberation Sans, sans-serif" font-weight="bold" font-size="13.8" fill="#2a2a2a" textLength="19.6" lengthAdjust="spacingAndGlyphs">0.5</text>
<text x="671.7" y="282.5" font-family="Liberation Sans, sans-serif" font-weight="bold" font-size="13.8" fill="#2a2a2a" textLength="19.6" lengthAdjust="spacingAndGlyphs">1.0</text>
<text x="746.6" y="282.5" font-family="Liberation Sans, sans-serif" font-weight="bold" font-size="13.8" fill="#2a2a2a" textLength="19.6" lengthAdjust="spacingAndGlyphs">1.5</text>
<g transform="translate(487.8,247.45) rotate(-90)"><text x="0" y="0" font-family="Liberation Serif, serif" font-style="italic" font-size="27" fill="#333">P</text><text x="15" y="3.6" font-family="Liberation Serif, serif" font-size="15.5" fill="#333">0</text></g>
<line x1="529.6" y1="312.2" x2="757.4" y2="312.2" stroke="#d4d4d8" stroke-width="1.5"/>
<line x1="529.6" y1="340.2" x2="757.4" y2="340.2" stroke="#d4d4d8" stroke-width="1.5"/>
<line x1="605.5" y1="312.2" x2="605.5" y2="368" stroke="#d4d4d8" stroke-width="1.5"/>
<line x1="681.5" y1="312.2" x2="681.5" y2="368" stroke="#d4d4d8" stroke-width="1.5"/>
<line x1="757.4" y1="312.2" x2="757.4" y2="368" stroke="#d4d4d8" stroke-width="1.5"/>
<line x1="530.5" y1="315.8" x2="530.5" y2="368" stroke="#333" stroke-width="2.2" stroke-dasharray="8.5,5.1"/>
<line x1="585.5" y1="315.8" x2="585.5" y2="368" stroke="#333" stroke-width="2.2" stroke-dasharray="8.5,5.1"/>
<line x1="677.5" y1="315.8" x2="677.5" y2="368" stroke="#333" stroke-width="2.2" stroke-dasharray="8.5,5.1"/>
<line x1="753.7" y1="315.8" x2="753.7" y2="368" stroke="#333" stroke-width="2.2" stroke-dasharray="8.5,5.1"/>
<line x1="529.6" y1="311.2" x2="529.6" y2="369.2" stroke="#222" stroke-width="2.4"/>
<line x1="528.6" y1="368" x2="758.4" y2="368" stroke="#222" stroke-width="2.4"/>
<line x1="605.5" y1="368" x2="605.5" y2="364.5" stroke="#222" stroke-width="1.5"/>
<line x1="681.5" y1="368" x2="681.5" y2="364.5" stroke="#222" stroke-width="1.5"/>
<line x1="757.4" y1="368" x2="757.4" y2="364.5" stroke="#222" stroke-width="1.5"/>
<line x1="529.6" y1="312.2" x2="533.1" y2="312.2" stroke="#222" stroke-width="1.5"/>
<line x1="529.6" y1="340.2" x2="533.1" y2="340.2" stroke="#222" stroke-width="1.5"/>
<line x1="529.6" y1="368" x2="533.1" y2="368" stroke="#222" stroke-width="1.5"/>
<path d="M529.6 368 L567.4 362.7 L585.5 361 L593.4 359.5 L601.0 358 L619.6 351.5 L636.7 345 L646.7 333.5 L656.4 320.7 L666.3 315.8 L677.5 312.6 L698.2 312 L719.4 312 L742.2 311.6 L754.5 311.8" fill="none" stroke="#77ac30" stroke-width="2.5" stroke-linejoin="round"/>
<circle cx="529.6" cy="368" r="2.4" fill="#35e01a" fill-opacity="0.9"/>
<circle cx="567.4" cy="362.7" r="2.4" fill="#35e01a" fill-opacity="0.9"/>
<circle cx="585.5" cy="361" r="2.4" fill="#35e01a" fill-opacity="0.9"/>
<circle cx="593.4" cy="359.5" r="2.4" fill="#35e01a" fill-opacity="0.9"/>
<circle cx="601.0" cy="358" r="2.4" fill="#35e01a" fill-opacity="0.9"/>
<circle cx="619.6" cy="351.5" r="2.4" fill="#35e01a" fill-opacity="0.9"/>
<circle cx="636.7" cy="345" r="2.4" fill="#35e01a" fill-opacity="0.9"/>
<circle cx="646.7" cy="333.5" r="2.4" fill="#35e01a" fill-opacity="0.9"/>
<circle cx="656.4" cy="320.7" r="2.4" fill="#35e01a" fill-opacity="0.9"/>
<circle cx="666.3" cy="315.8" r="2.4" fill="#35e01a" fill-opacity="0.9"/>
<circle cx="677.5" cy="312.6" r="2.4" fill="#35e01a" fill-opacity="0.9"/>
<circle cx="698.2" cy="312" r="2.4" fill="#35e01a" fill-opacity="0.9"/>
<circle cx="719.4" cy="312" r="2.4" fill="#35e01a" fill-opacity="0.9"/>
<circle cx="742.2" cy="311.6" r="2.4" fill="#35e01a" fill-opacity="0.9"/>
<circle cx="754.5" cy="311.8" r="2.4" fill="#35e01a" fill-opacity="0.9"/>
<text x="522.8" y="316.9" font-family="Liberation Sans, sans-serif" font-weight="bold" font-size="13.8" fill="#2a2a2a" text-anchor="end" textLength="19" lengthAdjust="spacingAndGlyphs">0.4</text>
<text x="522.8" y="344.9" font-family="Liberation Sans, sans-serif" font-weight="bold" font-size="13.8" fill="#2a2a2a" text-anchor="end" textLength="19" lengthAdjust="spacingAndGlyphs">0.2</text>
<text x="522.8" y="372.7" font-family="Liberation Sans, sans-serif" font-weight="bold" font-size="13.8" fill="#2a2a2a" text-anchor="end" textLength="19" lengthAdjust="spacingAndGlyphs">0.0</text>
<text x="519.8" y="388" font-family="Liberation Sans, sans-serif" font-weight="bold" font-size="13.8" fill="#2a2a2a" textLength="19.6" lengthAdjust="spacingAndGlyphs">0.0</text>
<text x="595.7" y="388" font-family="Liberation Sans, sans-serif" font-weight="bold" font-size="13.8" fill="#2a2a2a" textLength="19.6" lengthAdjust="spacingAndGlyphs">0.5</text>
<text x="671.7" y="388" font-family="Liberation Sans, sans-serif" font-weight="bold" font-size="13.8" fill="#2a2a2a" textLength="19.6" lengthAdjust="spacingAndGlyphs">1.0</text>
<text x="746.6" y="388" font-family="Liberation Sans, sans-serif" font-weight="bold" font-size="13.8" fill="#2a2a2a" textLength="19.6" lengthAdjust="spacingAndGlyphs">1.5</text>
<g transform="translate(487.8,352.70000000000005) rotate(-90)"><text x="0" y="0" font-family="Liberation Serif, serif" font-style="italic" font-size="27" fill="#333">P</text><text x="15" y="3.6" font-family="Liberation Serif, serif" font-size="15.5" fill="#333">1</text></g>
<line x1="529.6" y1="437" x2="757.4" y2="437" stroke="#d4d4d8" stroke-width="1.5"/>
<line x1="605.5" y1="415.8" x2="605.5" y2="472.1" stroke="#d4d4d8" stroke-width="1.5"/>
<line x1="681.5" y1="415.8" x2="681.5" y2="472.1" stroke="#d4d4d8" stroke-width="1.5"/>
<line x1="757.4" y1="415.8" x2="757.4" y2="472.1" stroke="#d4d4d8" stroke-width="1.5"/>
<line x1="530.5" y1="419.40000000000003" x2="530.5" y2="472.1" stroke="#333" stroke-width="2.2" stroke-dasharray="8.5,5.1"/>
<line x1="585.5" y1="419.40000000000003" x2="585.5" y2="472.1" stroke="#333" stroke-width="2.2" stroke-dasharray="8.5,5.1"/>
<line x1="677.5" y1="419.40000000000003" x2="677.5" y2="472.1" stroke="#333" stroke-width="2.2" stroke-dasharray="8.5,5.1"/>
<line x1="753.7" y1="419.40000000000003" x2="753.7" y2="472.1" stroke="#333" stroke-width="2.2" stroke-dasharray="8.5,5.1"/>
<line x1="529.6" y1="414.8" x2="529.6" y2="473.3" stroke="#222" stroke-width="2.4"/>
<line x1="528.6" y1="472.1" x2="758.4" y2="472.1" stroke="#222" stroke-width="2.4"/>
<line x1="605.5" y1="472.1" x2="605.5" y2="468.6" stroke="#222" stroke-width="1.5"/>
<line x1="681.5" y1="472.1" x2="681.5" y2="468.6" stroke="#222" stroke-width="1.5"/>
<line x1="757.4" y1="472.1" x2="757.4" y2="468.6" stroke="#222" stroke-width="1.5"/>
<line x1="529.6" y1="437" x2="533.1" y2="437" stroke="#222" stroke-width="1.5"/>
<line x1="529.6" y1="472.1" x2="533.1" y2="472.1" stroke="#222" stroke-width="1.5"/>
<path d="M529.6 472 L567.4 472 L585.5 472 L593.4 472 L601.0 471.8 L619.6 470.5 L636.7 469.3 L646.7 463.4 L656.4 450.4 L666.3 437.5 L677.5 426.1 L698.2 423.3 L719.4 420.5 L742.2 416.7 L754.5 417.6" fill="none" stroke="#0072bd" stroke-width="2.5" stroke-linejoin="round"/>
<circle cx="529.6" cy="472" r="2.4" fill="#1a1aff" fill-opacity="0.9"/>
<circle cx="567.4" cy="472" r="2.4" fill="#1a1aff" fill-opacity="0.9"/>
<circle cx="585.5" cy="472" r="2.4" fill="#1a1aff" fill-opacity="0.9"/>
<circle cx="593.4" cy="472" r="2.4" fill="#1a1aff" fill-opacity="0.9"/>
<circle cx="601.0" cy="471.8" r="2.4" fill="#1a1aff" fill-opacity="0.9"/>
<circle cx="619.6" cy="470.5" r="2.4" fill="#1a1aff" fill-opacity="0.9"/>
<circle cx="636.7" cy="469.3" r="2.4" fill="#1a1aff" fill-opacity="0.9"/>
<circle cx="646.7" cy="463.4" r="2.4" fill="#1a1aff" fill-opacity="0.9"/>
<circle cx="656.4" cy="450.4" r="2.4" fill="#1a1aff" fill-opacity="0.9"/>
<circle cx="666.3" cy="437.5" r="2.4" fill="#1a1aff" fill-opacity="0.9"/>
<circle cx="677.5" cy="426.1" r="2.4" fill="#1a1aff" fill-opacity="0.9"/>
<circle cx="698.2" cy="423.3" r="2.4" fill="#1a1aff" fill-opacity="0.9"/>
<circle cx="719.4" cy="420.5" r="2.4" fill="#1a1aff" fill-opacity="0.9"/>
<circle cx="742.2" cy="416.7" r="2.4" fill="#1a1aff" fill-opacity="0.9"/>
<circle cx="754.5" cy="417.6" r="2.4" fill="#1a1aff" fill-opacity="0.9"/>
<text x="522.8" y="441.7" font-family="Liberation Sans, sans-serif" font-weight="bold" font-size="13.8" fill="#2a2a2a" text-anchor="end" textLength="19" lengthAdjust="spacingAndGlyphs">0.1</text>
<text x="522.8" y="476.8" font-family="Liberation Sans, sans-serif" font-weight="bold" font-size="13.8" fill="#2a2a2a" text-anchor="end" textLength="19" lengthAdjust="spacingAndGlyphs">0.0</text>
<text x="519.8" y="492.1" font-family="Liberation Sans, sans-serif" font-weight="bold" font-size="13.8" fill="#2a2a2a" textLength="19.6" lengthAdjust="spacingAndGlyphs">0.0</text>
<text x="595.7" y="492.1" font-family="Liberation Sans, sans-serif" font-weight="bold" font-size="13.8" fill="#2a2a2a" textLength="19.6" lengthAdjust="spacingAndGlyphs">0.5</text>
<text x="671.7" y="492.1" font-family="Liberation Sans, sans-serif" font-weight="bold" font-size="13.8" fill="#2a2a2a" textLength="19.6" lengthAdjust="spacingAndGlyphs">1.0</text>
<text x="746.6" y="492.1" font-family="Liberation Sans, sans-serif" font-weight="bold" font-size="13.8" fill="#2a2a2a" textLength="19.6" lengthAdjust="spacingAndGlyphs">1.5</text>
<g transform="translate(487.8,456.55000000000007) rotate(-90)"><text x="0" y="0" font-family="Liberation Serif, serif" font-style="italic" font-size="27" fill="#333">P</text><text x="15" y="3.6" font-family="Liberation Serif, serif" font-size="15.5" fill="#333">2</text></g>
<text x="636.6" y="515" font-family="Liberation Serif, serif" font-style="italic" font-size="27.5" fill="#222" textLength="15.5" lengthAdjust="spacingAndGlyphs">S</text>
</g>
</svg>
</body></html>
